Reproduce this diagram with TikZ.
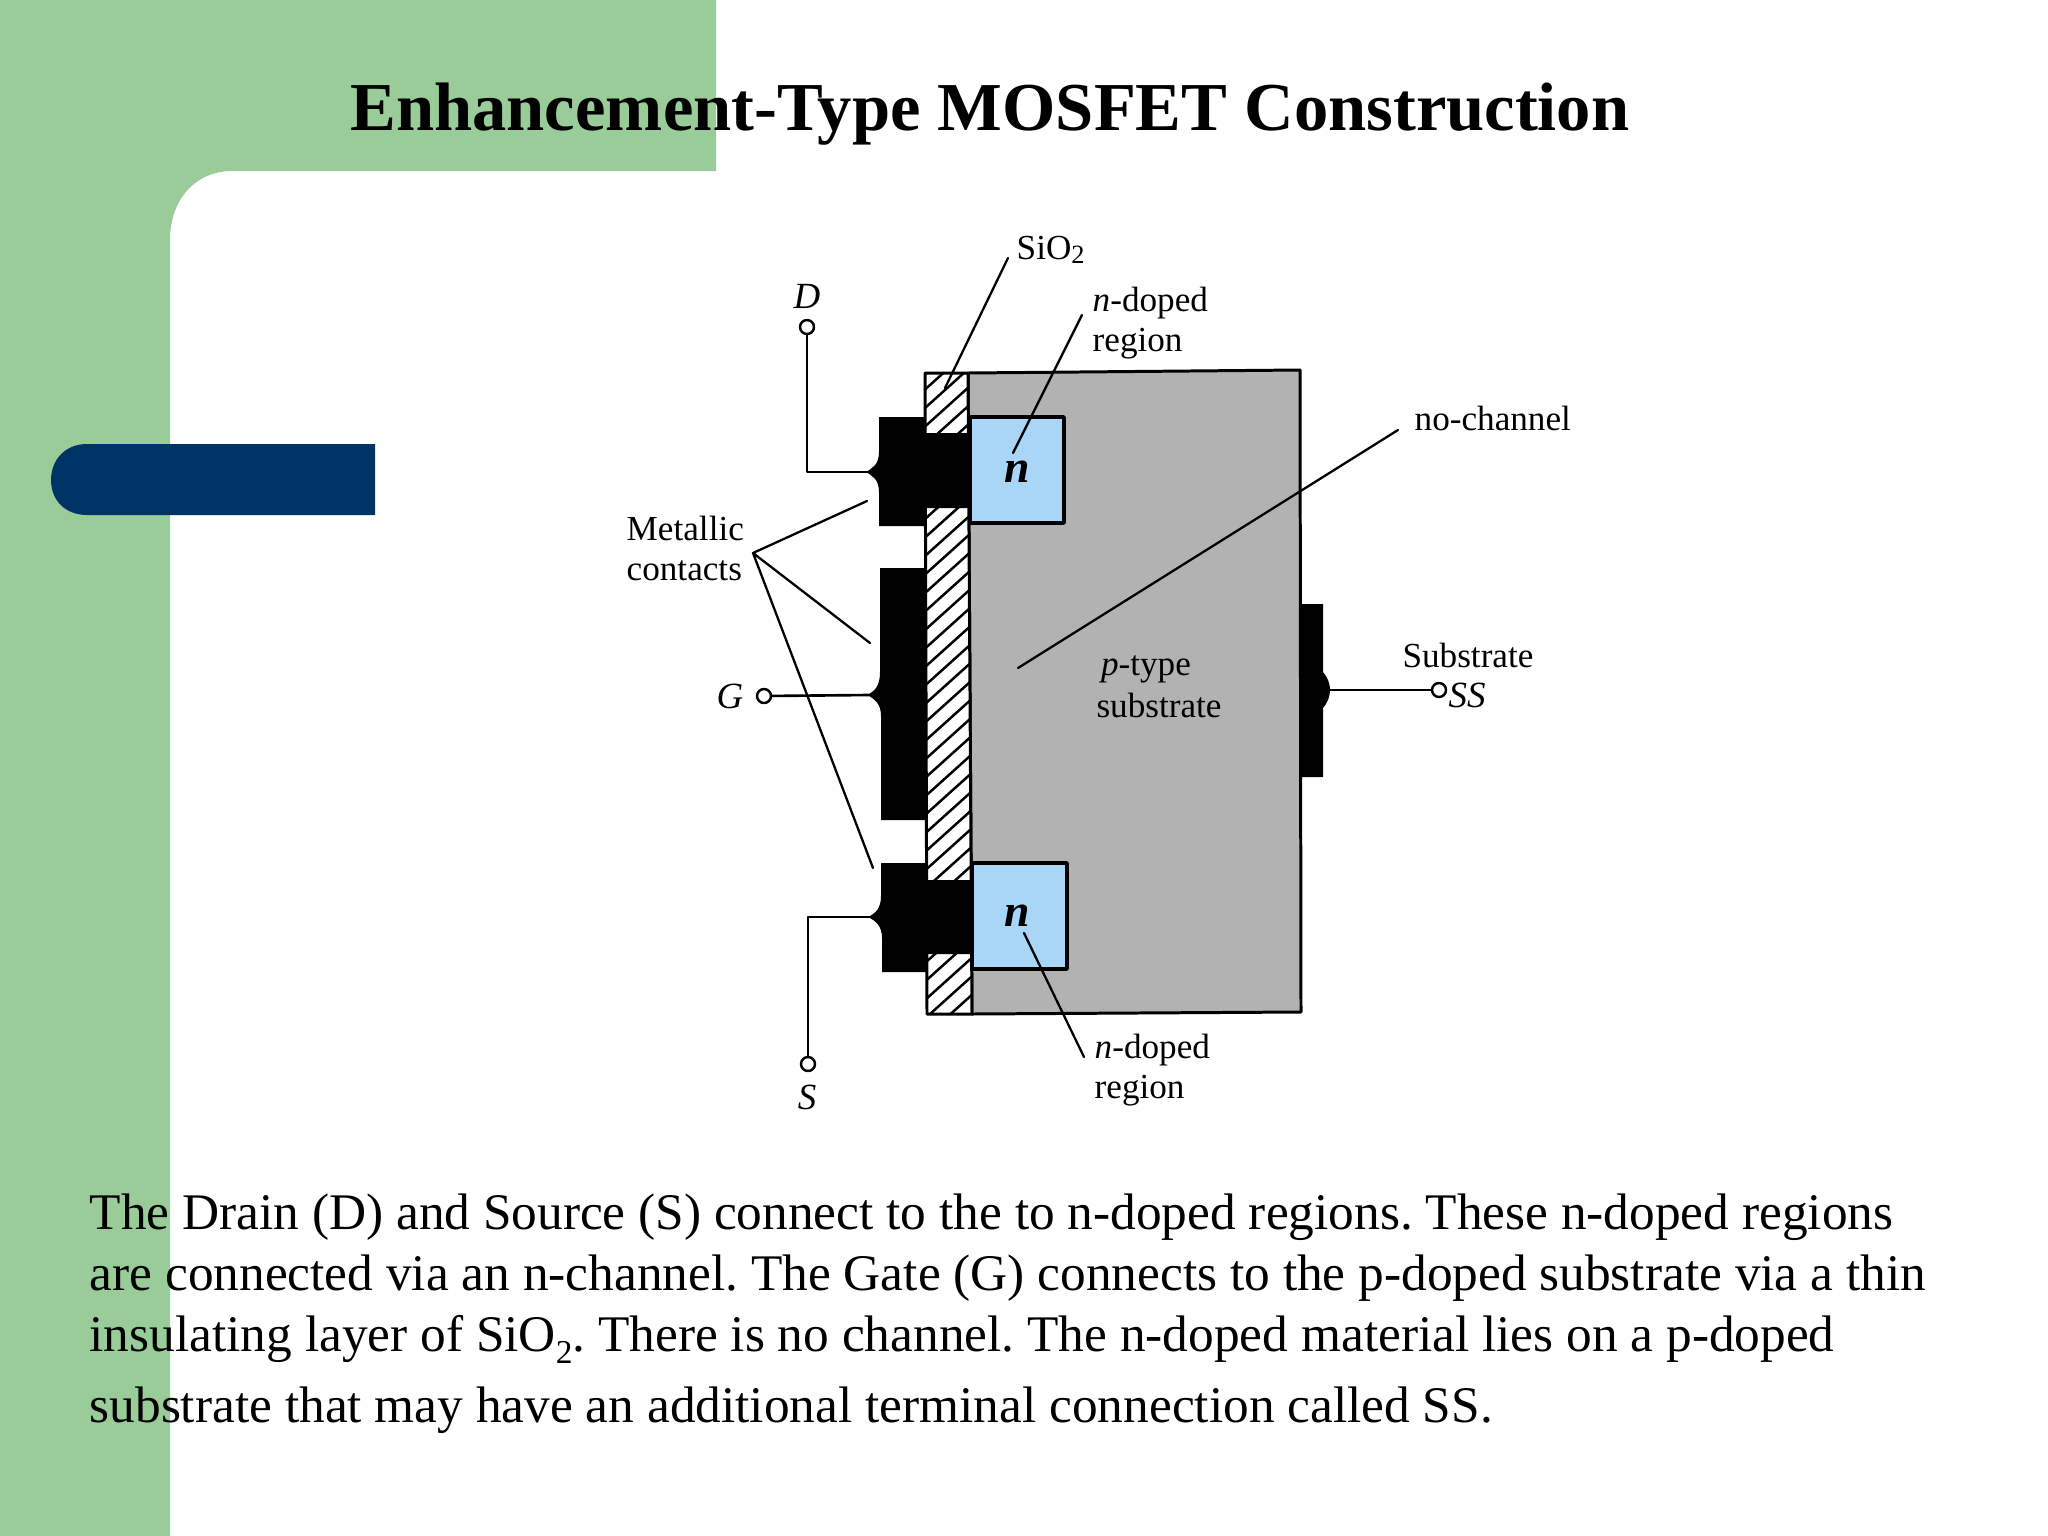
\documentclass[tikz,border=0pt]{standalone}
\usepackage{fontspec}
\setmainfont{Liberation Serif}
\frenchspacing
\definecolor{slidegreen}{HTML}{99CC99}
\definecolor{slideblue}{HTML}{003366}
\definecolor{ndoped}{HTML}{A9D5F6}
\definecolor{subgray}{HTML}{B2B2B2}
\newcommand{\lowtwo}[2]{\raisebox{-#2}{\fontsize{#1}{#1}\selectfont 2}}
\tikzset{
	metal/.style = {fill = black, draw = none},
	wire/.style = {line width = 0.75pt},
	leader/.style = {line width = 0.65pt},
	pin/.style = {circle, draw, fill = white, line width = 0.7pt, inner sep = 0pt, minimum size = 0.14cm},
	lbl/.style = {font = \fontsize{10}{10}\selectfont, inner sep = 0pt},
	termlbl/.style = {lbl, font = \fontsize{10.5}{10.5}\selectfont\itshape},
	bodyline/.style = {font = \fontsize{14.6}{14.6}\selectfont, anchor = base west, inner sep = 0pt}
}
\begin{document}
\begin{tikzpicture}[line join = round, line cap = round, x = 0.01cm, y = -0.01cm]
	\useasboundingbox (0,0) rectangle (2048,1536);
	% slide background
	\fill[slidegreen] (0,0) -- (716,0) -- (716,171) -- (232,171) .. controls (195,171) and (170,200) .. (170,240) -- (170,1536) -- (0,1536) -- cycle;
	\fill[slideblue] (375,444) -- (87,444) .. controls (65,444) and (51,460) .. (51,480) .. controls (51,500) and (65,515) .. (87,515) -- (375,515) -- cycle;
	\path (968,373) coordinate (A)
		(1300,370) coordinate (B)
		(1301,1012) coordinate (C)
		(972,1014) coordinate (E)
		(925,373) coordinate (OA)
		(927,1014) coordinate (OD);
	% substrate and n regions
	\draw[fill = subgray, line width = 0.85pt] (A)--(B)--(C)--(E)--cycle;
	\draw[fill = ndoped, line width = 1pt] (970,417) rectangle (1064,523);
	\draw[fill = ndoped, line width = 1pt] (972,863) rectangle (1067,969);
	% oxide
	\begin{scope}
		\clip (OA)--(A)--(E)--(OD)--cycle;
		\fill[white] (OA)--(A)--(E)--(OD)--cycle;
		\foreach \h in {380,398.5,...,1100}
			\draw[line width = 0.7pt] (915,\h) -- (985,\h-63);
	\end{scope}
	\draw[line width = 0.85pt] (OD)--(OA)--(A)--(E)--cycle;
	% contacts
	\fill[metal] (879,417) -- (925,417) -- (925,433) -- (970,433) -- (970,508) -- (925,508) -- (925,526) -- (879,526) -- (879,492) .. controls (879,480) and (873,476) .. (866,472) .. controls (873,468) and (879,464) .. (879,452) -- cycle;
	\fill[metal] (880,568) -- (925,568) -- (925,820) -- (881,820) -- (881,716) .. controls (881,704) and (875,699) .. (867,695) .. controls (875,691) and (880,686) .. (880,672) -- cycle;
	\fill[metal] (881,863) -- (926,863) -- (926,880) -- (972,880) -- (972,954) -- (927,954) -- (927,972) -- (882,972) -- (882,938) .. controls (882,926) and (876,921) .. (868,917) .. controls (876,913) and (881,908) .. (881,896) -- cycle;
	\fill[metal] (1300,604) -- (1323,604) -- (1323,672) .. controls (1328,678) and (1330,684) .. (1330,690) .. controls (1330,696) and (1328,702) .. (1323,708) -- (1323,777) -- (1300,777) -- cycle;
	% terminals
	\node[pin] (pinD) at (807,327) {};
	\node[pin] (pinG) at (764,696) {};
	\node[pin] (pinS) at (808,1064) {};
	\node[pin] (pinSS) at (1439,690) {};
	\path (868,472) coordinate (bumpD)
		(869,695) coordinate (bumpG)
		(870,917) coordinate (bumpS)
		(1329,690) coordinate (bumpSS);
	\draw[wire] (pinD) |- (bumpD);
	\draw[wire] (pinG) -- (bumpG);
	\draw[wire] (pinS) |- (bumpS);
	\draw[wire] (pinSS) -- (bumpSS);
	% leaders
	\path (753,553) coordinate (M)
		(867,501) coordinate (M1)
		(870,643) coordinate (M2)
		(873,868) coordinate (M3)
		(1008,258) coordinate (Sa)
		(945,388) coordinate (Sb)
		(1082,315) coordinate (Na)
		(1013,453) coordinate (Nb)
		(1024,933) coordinate (Nc)
		(1084,1057) coordinate (Nd)
		(1398,430) coordinate (Ca)
		(1018,668) coordinate (Cb);
	\draw[leader] (M1)--(M)--(M2) (M)--(M3);
	\draw[leader] (Sa)--(Sb) (Na)--(Nb) (Nc)--(Nd) (Ca)--(Cb);
	% labels
	\node[termlbl] (lblD) at (807,296) {D};
	\node[termlbl] (lblG) at (730,696) {G};
	\node[termlbl] (lblS) at (807,1097) {S};
	\node[termlbl] (lblSS) at (1467,695) {SS};
	\node[lbl, font = \fontsize{13}{13}\selectfont\bfseries\itshape] (nTop) at (1017,472) {n};
	\node[lbl, font = \fontsize{13}{13}\selectfont\bfseries\itshape] (nBot) at (1017,916) {n};
	\node[lbl, anchor = base west] (lblSiO) at (1016,259) {SiO\lowtwo{7.5}{0.04cm}};
	\node[lbl, anchor = base west] (lblNa) at (1092,311) {\textit{n}-doped};
	\node[lbl, anchor = base west] (lblNb) at (1092,351) {region};
	\node[lbl, anchor = base west] (lblNc) at (1094,1058) {\textit{n}-doped};
	\node[lbl, anchor = base west] (lblNd) at (1094,1098) {region};
	\node[lbl, anchor = base west] (lblChan) at (1414,430) {no-channel};
	\node[lbl, anchor = base] (lblSub) at (1468,667) {Substrate};
	\node[lbl, anchor = base] (lblPa) at (1146,675) {\textit{p}-type};
	\node[lbl, anchor = base] (lblPb) at (1159,717) {substrate};
	\node[lbl, anchor = base west] (lblMa) at (626,540) {Metallic};
	\node[lbl, anchor = base west] (lblMb) at (626,580) {contacts};
	% text
	\node[font = \fontsize{19.5}{19.5}\selectfont\bfseries, anchor = base, inner sep = 0pt] (title) at (990,130) {Enhancement-Type MOSFET Construction};
	\node[bodyline] (line1) at (89,1229) {The Drain (D) and Source (S) connect to the to n-doped regions. These n-doped regions};
	\node[bodyline] (line2) at (89,1290) {are connected via an n-channel. The Gate (G) connects to the p-doped substrate via a thin};
	\node[bodyline] (line3) at (89,1351) {insulating layer of SiO\lowtwo{9.5}{0.12cm}. There is no channel. The n-doped material lies on a p-doped};
	\node[bodyline] (line4) at (89,1422) {substrate that may have an additional terminal connection called SS.};
\end{tikzpicture}
\end{document}
